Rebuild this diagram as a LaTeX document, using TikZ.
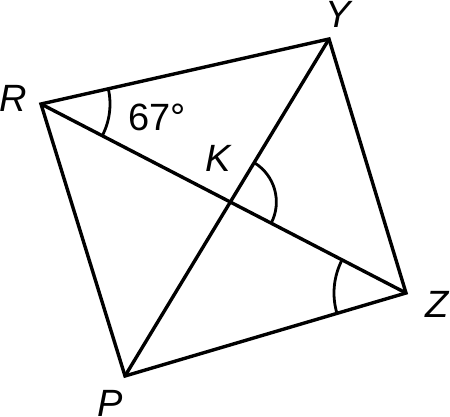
\documentclass[tikz,border=0pt]{standalone}
\usepackage{fontspec}
\setmainfont{Liberation Sans}
\usetikzlibrary{angles}
\tikzset{
  side/.style={line width=3.4pt, line join=miter},
  anglemark/.style={draw, line width=2.8pt},
  lbl/.style={font=\fontsize{38}{40}\selectfont\itshape, inner sep=0pt},
  num/.style={font=\fontsize{38}{40}\selectfont, inner sep=0pt}
}
\begin{document}
\begin{tikzpicture}[x=1pt,y=1pt]
\useasboundingbox (0,0) rectangle (450,417);
\coordinate (R) at (41,313);
\coordinate (Y) at (329,378);
\coordinate (Z) at (406,124);
\coordinate (P) at (125,41);
\coordinate (K) at (intersection of R--Z and P--Y);
\draw[side] (R) -- (Y) -- (Z) -- (P) -- cycle;
\draw[side] (R) -- (Z);
\draw[side] (P) -- (Y);
\pic[anglemark, angle radius=69pt] {angle=Z--R--Y};
\pic[anglemark, angle radius=46pt] {angle=Z--K--Y};
\pic[anglemark, angle radius=72pt] {angle=R--Z--P};
\node[lbl] (lR) at (13,319) {R};
\node[lbl] (lY) at (338,403) {Y};
\node[lbl] (lZ) at (437,113) {Z};
\node[lbl] (lP) at (110,14) {P};
\node[lbl] (lK) at (218,259) {K};
\node[num] (la) at (157,300) {67°};
\end{tikzpicture}
\end{document}
